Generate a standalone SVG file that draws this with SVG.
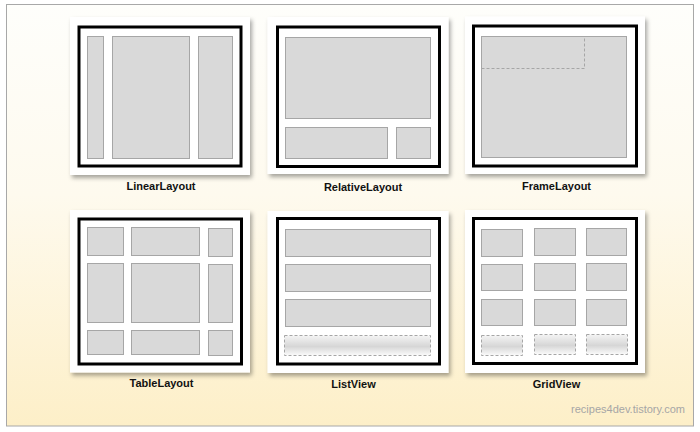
<svg xmlns="http://www.w3.org/2000/svg" width="700" height="432" viewBox="0 0 700 432">
<defs>
<linearGradient id="bg" x1="0" y1="0" x2="0" y2="1">
<stop offset="0" stop-color="#fefefb"/>
<stop offset="0.45" stop-color="#fefaee"/>
<stop offset="1" stop-color="#fdefc8"/>
</linearGradient>
<linearGradient id="fade" x1="0" y1="0" x2="0" y2="1">
<stop offset="0" stop-color="#f4f4f4"/>
<stop offset="0.55" stop-color="#d6d6d6"/>
<stop offset="1" stop-color="#fbfbfb"/>
</linearGradient>
<filter id="sh" x="-10%" y="-10%" width="125%" height="125%">
<feDropShadow dx="2" dy="3" stdDeviation="2.2" flood-color="#000" flood-opacity="0.35"/>
</filter>
</defs>
<style>
.card{fill:#ffffff;filter:url(#sh)}
.frame{fill:none;stroke:#000;stroke-width:3}
.box{fill:#d9d9d9;stroke:#a6a6a6;stroke-width:1}
.dash{fill:none;stroke:#a6a6a6;stroke-width:1;stroke-dasharray:3 2}
.fadebox{fill:url(#fade);stroke:#a6a6a6;stroke-width:1;stroke-dasharray:3 2}
.lbl{font-family:"Liberation Sans",Arial,sans-serif;font-size:11px;font-weight:bold;fill:#111;text-anchor:middle}
.wm{font-family:"Liberation Sans",Arial,sans-serif;font-size:11px;fill:#a6a6a6;text-anchor:end}
</style>
<rect x="0" y="0" width="700" height="432" fill="#ffffff"/>
<rect x="6.5" y="4.5" width="687" height="421.5" fill="url(#bg)" stroke="#a8a8a8" stroke-width="1"/>

<g id="linearlayout">
<rect class="card" x="70" y="17" width="180" height="158"/>
<rect class="frame" x="79" y="27" width="162" height="139"/>
<rect class="box" x="87.5" y="36.5" width="16" height="122"/>
<rect class="box" x="112.5" y="36.5" width="77" height="122"/>
<rect class="box" x="198.5" y="36.5" width="34" height="122"/>
<text class="lbl" x="161" y="190">LinearLayout</text>
</g>

<g id="relativelayout">
<rect class="card" x="267.5" y="17" width="181" height="157"/>
<rect class="frame" x="277.5" y="27" width="162" height="139.5"/>
<rect class="box" x="285.5" y="37.5" width="145" height="81"/>
<rect class="box" x="285.5" y="127.5" width="102" height="31"/>
<rect class="box" x="396.5" y="127.5" width="34" height="31"/>
<text class="lbl" x="363" y="191">RelativeLayout</text>
</g>

<g id="framelayout">
<rect class="card" x="465" y="16.5" width="180" height="157.5"/>
<rect class="frame" x="473.5" y="26" width="163" height="140"/>
<rect class="box" x="481.5" y="36.5" width="145" height="121"/>
<rect class="dash" x="481.5" y="36.5" width="103" height="32"/>
<text class="lbl" x="556.5" y="190">FrameLayout</text>
</g>

<g id="tablelayout">
<rect class="card" x="70" y="210" width="180" height="162.5"/>
<rect class="frame" x="79" y="219" width="162.5" height="145"/>
<rect class="box" x="87.5" y="227.5" width="36" height="28"/>
<rect class="box" x="131.5" y="227.5" width="68" height="28"/>
<rect class="box" x="208.5" y="228.5" width="24" height="28"/>
<rect class="box" x="87.5" y="263.5" width="36" height="59"/>
<rect class="box" x="131.5" y="263.5" width="68" height="59"/>
<rect class="box" x="208.5" y="264.5" width="24" height="58"/>
<rect class="box" x="87.5" y="330.5" width="36" height="24"/>
<rect class="box" x="131.5" y="330.5" width="68" height="24"/>
<rect class="box" x="208.5" y="330.5" width="24" height="25"/>
<text class="lbl" x="161.5" y="387">TableLayout</text>
</g>

<g id="listview">
<rect class="card" x="267.5" y="211" width="181" height="162"/>
<rect class="frame" x="277.5" y="218.5" width="162" height="145.5"/>
<rect class="box" x="285.5" y="229.5" width="145" height="27"/>
<rect class="box" x="285.5" y="264.5" width="145" height="27"/>
<rect class="box" x="285.5" y="299.5" width="145" height="27"/>
<rect class="fadebox" x="284.5" y="335.5" width="146" height="20"/>
<text class="lbl" x="353.5" y="388">ListView</text>
</g>

<g id="gridview">
<rect class="card" x="465" y="210" width="180" height="163"/>
<rect class="frame" x="473.5" y="218.5" width="163" height="145"/>
<rect class="box" x="481.5" y="229.5" width="41" height="27"/>
<rect class="box" x="534.5" y="228.5" width="41" height="27"/>
<rect class="box" x="586.5" y="228.5" width="40" height="27"/>
<rect class="box" x="481.5" y="264.5" width="41" height="26"/>
<rect class="box" x="534.5" y="263.5" width="41" height="27"/>
<rect class="box" x="586.5" y="263.5" width="40" height="27"/>
<rect class="box" x="481.5" y="299.5" width="41" height="26"/>
<rect class="box" x="534.5" y="299.5" width="41" height="26"/>
<rect class="box" x="586.5" y="299.5" width="40" height="26"/>
<rect class="fadebox" x="481.5" y="335.5" width="41" height="20"/>
<rect class="fadebox" x="534.5" y="334.5" width="41" height="20"/>
<rect class="fadebox" x="586.5" y="334.5" width="41" height="20"/>
<text class="lbl" x="556.5" y="388">GridView</text>
</g>

<g id="connectors"></g>

<text class="wm" x="685" y="413">recipes4dev.tistory.com</text>
</svg>
